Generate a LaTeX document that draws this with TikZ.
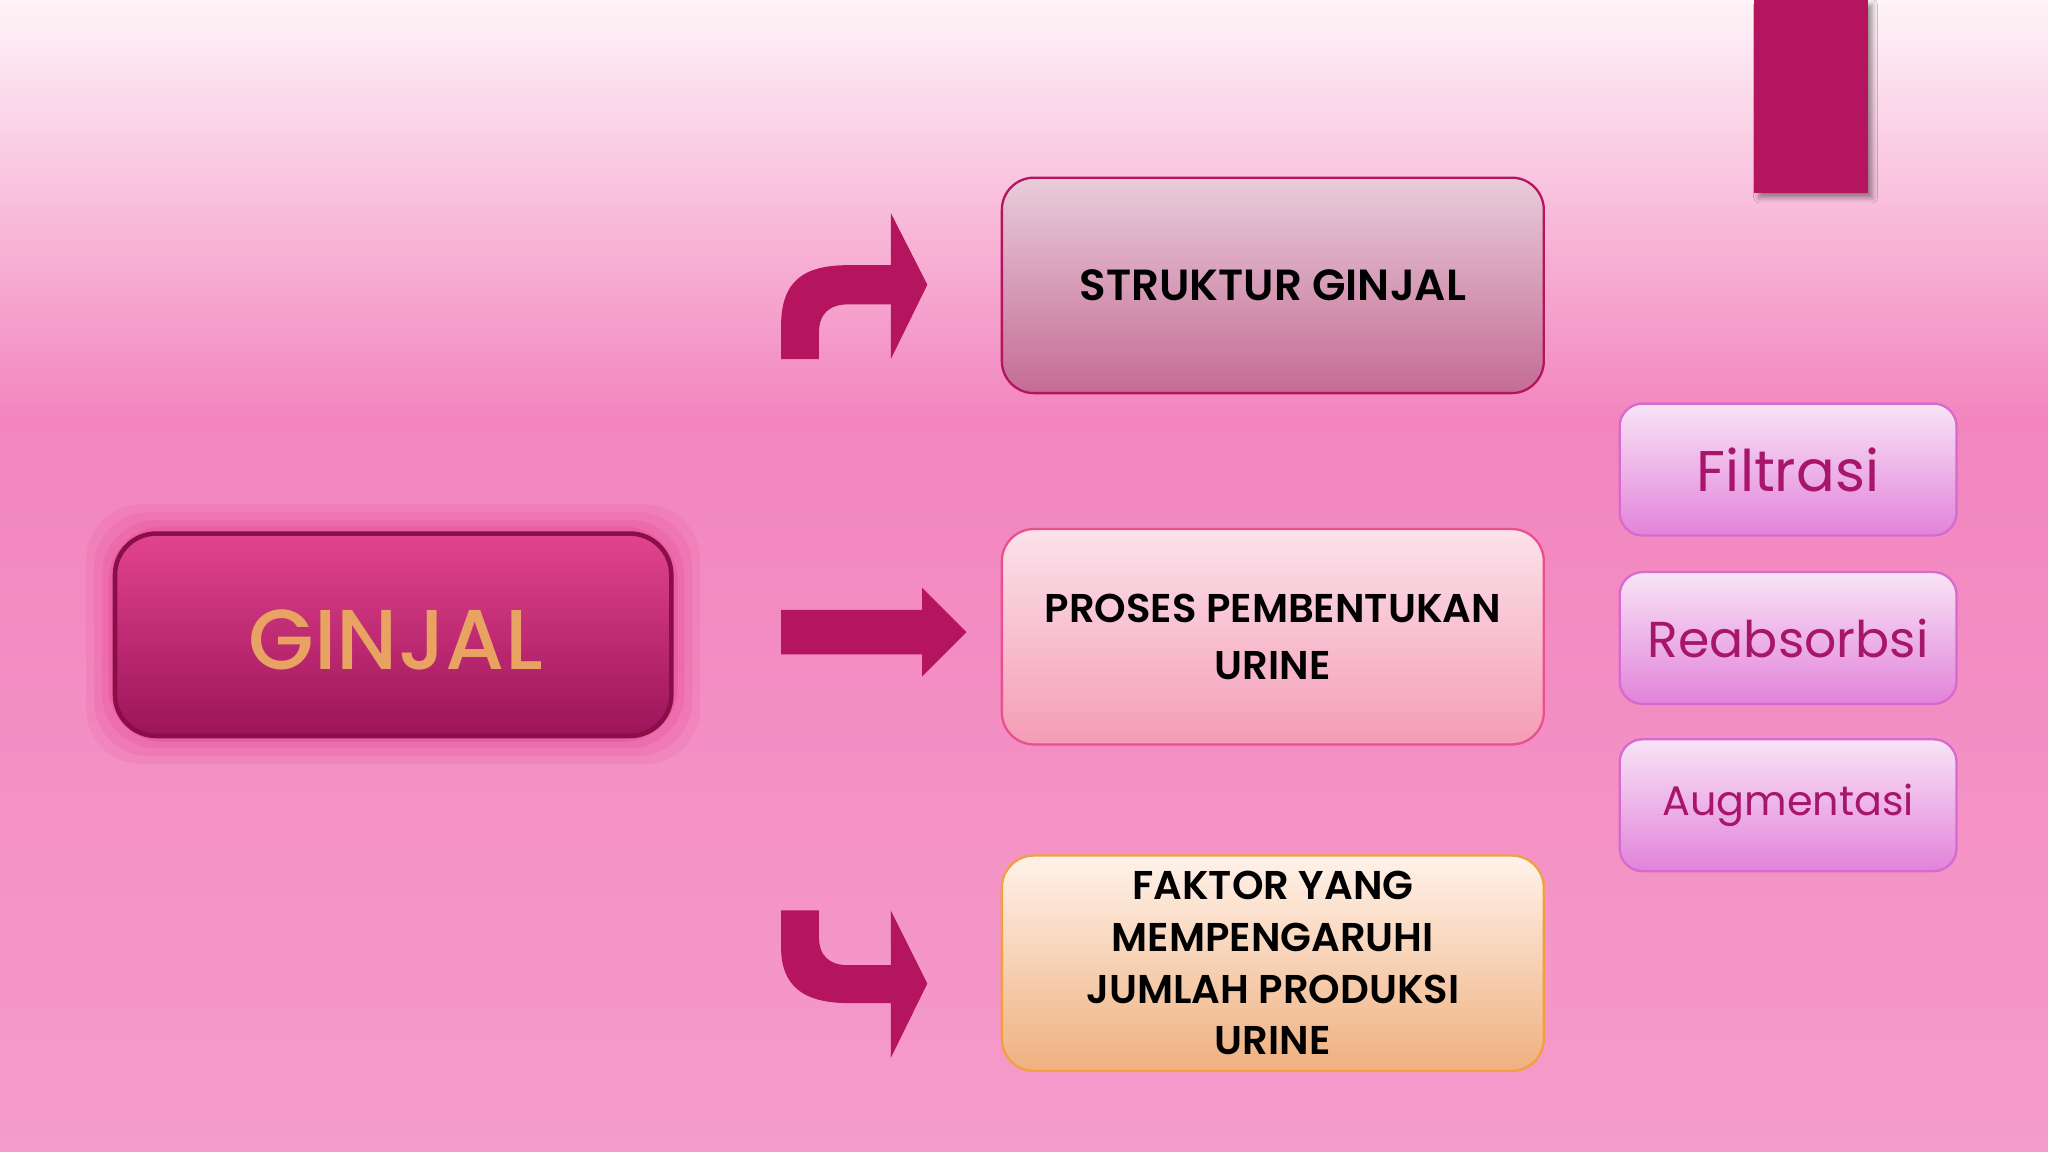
\documentclass[tikz,border=0pt]{standalone}
\usepackage{fontspec}
\setmainfont{Poppins}
\usetikzlibrary{shadows.blur}
\definecolor{mag}{HTML}{B5145F}
\definecolor{bgtop}{HTML}{FFF4F8}
\definecolor{bgmid}{HTML}{F285BE}
\definecolor{bgbot}{HTML}{F59CCB}
\definecolor{smline}{HTML}{D66ACF}
\definecolor{smtext}{HTML}{A8166A}
\definecolor{smtop}{HTML}{F8E4F6}
\definecolor{smbot}{HTML}{E283DA}
\definecolor{gline}{HTML}{8A0E48}
\definecolor{gtop}{HTML}{E2448E}
\definecolor{gbot}{HTML}{9C1458}
\definecolor{gtext}{HTML}{E8A262}
\definecolor{glow}{HTML}{E8408E}
\definecolor{b1t}{HTML}{E9CCDA}\definecolor{b1b}{HTML}{C46C94}
\definecolor{b2t}{HTML}{FCE2EA}\definecolor{b2b}{HTML}{F49CB6}
\definecolor{b3t}{HTML}{FFF2EA}\definecolor{b3b}{HTML}{EFB07E}
\definecolor{b2line}{HTML}{E8508E}
\definecolor{b3line}{HTML}{F0A040}
\tikzset{
 arr/.style={fill=mag,draw=none},
 bigbox/.style={rounded corners=14pt,line width=1pt,minimum width=8.3cm,minimum height=3.3cm},
 smallbox/.style={rounded corners=10pt,line width=1pt,draw=smline,top color=smtop,bottom color=smbot,minimum width=5.16cm,minimum height=2.02cm},
 btxt/.style={font=\fontspec{Poppins SemiBold}\fontsize{17.5}{25}\selectfont,align=center,text=black},
 stxt/.style={text=smtext,align=center},
}
\begin{document}
\begin{tikzpicture}[x=0.02cm,y=-0.02cm]
\useasboundingbox (0,0) rectangle (1568,882);
\shade[top color=bgtop,bottom color=bgmid] (0,0) rectangle (1568,320);
\shade[top color=bgmid,bottom color=bgbot] (0,320) rectangle (1568,882);
\fill[mag,blur shadow={shadow xshift=2pt,shadow yshift=-2pt}] (1343,0) rectangle (1430,148);
% GINJAL glow
\foreach \d/\o in {22/0.12,16/0.15,10/0.2,5/0.3}{
  \fill[glow,opacity=\o,rounded corners=24pt] (88-\d,408-\d) rectangle (514+\d,563+\d);}
\node[draw=gline,line width=2pt,rounded corners=18pt,top color=gtop,bottom color=gbot,
  minimum width=8.52cm,minimum height=3.1cm] (g) at (301,486) {};
\node[text=gtext,font=\fontspec{Poppins Medium}\fontsize{37}{40}\selectfont] (gt) at (303,490) {GINJAL};
% arrows
\fill[arr] (598,275) -- (598,250) .. controls (598,215) and (615,203) .. (650,203) -- (682,203) -- (682,163) -- (710,218) -- (682,275) -- (682,233) -- (650,233) .. controls (635,233) and (627,240) .. (627,255) -- (627,275) -- cycle;
\fill[arr] (598,467) -- (706,467) -- (706,450) -- (740,484) -- (706,518) -- (706,501) -- (598,501) -- cycle;
\fill[arr] (598,697) -- (598,725) .. controls (598,755) and (615,768) .. (650,768) -- (682,768) -- (682,810) -- (710,753) -- (682,697) -- (682,739) -- (650,739) .. controls (635,739) and (627,732) .. (627,717) -- (627,697) -- cycle;
% big boxes
\node[bigbox,draw=mag,top color=b1t,bottom color=b1b] (s1) at (974.5,218.5) {};
\node[bigbox,draw=b2line,top color=b2t,bottom color=b2b] (s2) at (974.5,487.5) {};
\node[bigbox,draw=b3line,top color=b3t,bottom color=b3b] (s3) at (974.5,737.5) {};
\node[btxt,font=\fontspec{Poppins SemiBold}\fontsize{19}{25}\selectfont] at (s1) {STRUKTUR GINJAL};
\node[btxt] at (s2) {PROSES PEMBENTUKAN\\URINE};
\node[btxt,font=\fontspec{Poppins SemiBold}\fontsize{17.5}{22.5}\selectfont] at (s3) {FAKTOR YANG\\MEMPENGARUHI\\JUMLAH PRODUKSI\\URINE};
% small boxes
\node[smallbox] (f) at (1369,359.5) {};
\node[smallbox] (r) at (1369,488.5) {};
\node[smallbox] (a) at (1369,616.5) {};
\node[stxt,font=\fontsize{25}{30}\selectfont] at (f) {Filtrasi};
\node[stxt,font=\fontsize{22}{30}\selectfont] at (r) {Reabsorbsi};
\node[stxt,font=\fontsize{18}{30}\selectfont] at (a) {Augmentasi};
\end{tikzpicture}
\end{document}
